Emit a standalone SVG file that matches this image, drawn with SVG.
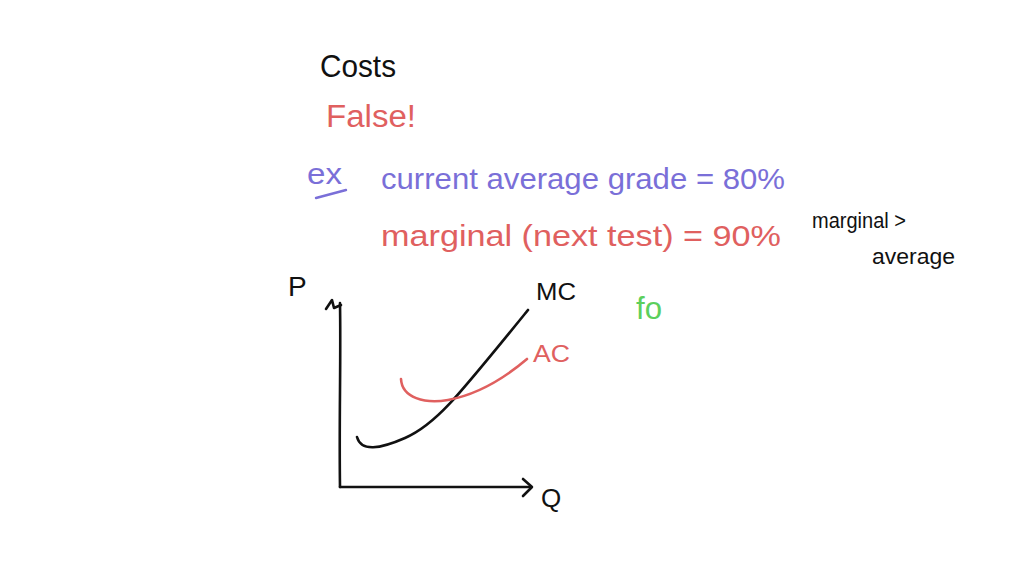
<svg xmlns="http://www.w3.org/2000/svg" width="1024" height="576" viewBox="0 0 1024 576">
<style>
.t{font-family:"Liberation Sans",Arial,sans-serif;}
.k{fill:#111;}
.r{fill:#e0605f;}
.b{fill:#7a6fd8;}
.g{fill:#5ccf5c;}
.sk{fill:none;stroke:#111;stroke-width:2.6;stroke-linecap:round;stroke-linejoin:round;}
.sr{fill:none;stroke:#e0605f;stroke-width:2.6;stroke-linecap:round;}
.sb{fill:none;stroke:#7a6fd8;stroke-width:2.4;stroke-linecap:round;}
</style>
<rect width="1024" height="576" fill="#fff"/>
<g id="title">
<text class="t k" x="320" y="77" font-size="31" textLength="76" lengthAdjust="spacingAndGlyphs">Costs</text>
<text class="t r" x="326" y="127" font-size="31" textLength="90" lengthAdjust="spacingAndGlyphs">False!</text>
</g>
<g id="example">
<text class="t b" x="307" y="184" font-size="30" textLength="35" lengthAdjust="spacingAndGlyphs">ex</text>
<path class="sb" d="M316 198 L346 190"/>
<text class="t b" x="381" y="189" font-size="30" textLength="404" lengthAdjust="spacingAndGlyphs">current average grade = 80%</text>
<text class="t r" x="381" y="246" font-size="30" textLength="400" lengthAdjust="spacingAndGlyphs">marginal (next test) = 90%</text>
</g>
<g id="note">
<text class="t k" x="812" y="228" font-size="22" textLength="94" lengthAdjust="spacingAndGlyphs">marginal &gt;</text>
<text class="t k" x="872" y="264" font-size="22" textLength="83" lengthAdjust="spacingAndGlyphs">average</text>
</g>
<g id="fo">
<text class="t g" x="636" y="319" font-size="32" textLength="26" lengthAdjust="spacingAndGlyphs">fo</text>
</g>
<g id="graph">
<path class="sk" d="M340 487 C339 420 341 360 340 303"/>
<path class="sk" d="M326 309 L332 300 L334 308 L341 305"/>
<path class="sk" d="M340 487 L531 487"/>
<path class="sk" d="M523 479 L532 487 L523 496"/>
<text class="t k" x="288" y="296" font-size="28">P</text>
<text class="t k" x="541" y="507" font-size="26">Q</text>
<path class="sk" d="M357 437 C361 452 380 449 405 438 C435 425 455 400 528 310"/>
<path class="sr" d="M401 379 C402 398 425 404 448 400 C475 395 500 382 527 359"/>
<text class="t k" x="536" y="300" font-size="24" textLength="40" lengthAdjust="spacingAndGlyphs">MC</text>
<text class="t r" x="533" y="362" font-size="24" textLength="37" lengthAdjust="spacingAndGlyphs">AC</text>
</g>
</svg>
